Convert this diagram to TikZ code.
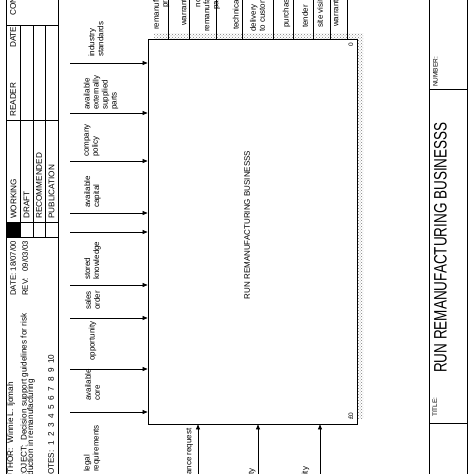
\documentclass[tikz,border=0pt]{standalone}
\usepackage{fontspec}
\setmainfont{Liberation Sans}
\usetikzlibrary{arrows.meta,patterns}
\begin{document}
\begin{tikzpicture}[x=1pt,y=-1pt,
  frameline/.style={draw=black, line width=0.6pt},
  cellline/.style={draw=black, line width=0.4pt},
  hdr/.style={rotate=90, inner sep=0pt, font=\fontsize{8.2}{9}\selectfont},
  lbl/.style={rotate=90, inner sep=0pt, align=left, font=\fontsize{8}{9}\selectfont},
  arr/.style={draw=black, line width=0.6pt, -{Triangle[length=5pt,width=4pt]}},
  outl/.style={draw=black, line width=0.6pt},
  actbox/.style={draw=black, line width=0.8pt, fill=white, inner sep=0pt, minimum width=209pt, minimum height=385pt},
]
\useasboundingbox (0,0) rectangle (474,474);
\clip (0,0) rectangle (474,474);
\fill[white] (0,0) rectangle (474,474);

% ---------- header form ----------
\draw[frameline] (6,0) -- (6,474);
\draw[frameline] (58,0) -- (58,474);
\draw[cellline] (6,25) -- (58,25);
\draw[cellline] (6,120) -- (58,120);
\draw[cellline] (6,237) -- (58,237);
\draw[cellline] (6,222) -- (58,222);
\foreach \x in {20,33,45} \draw[cellline] (\x,25) -- (\x,237);
\fill[black] (6,222) rectangle (20,237);

\node[hdr, anchor=west] (hctx) at (13,16) {CONTEXT:};
\node[hdr, anchor=west] (hdate) at (13,48) {DATE};
\node[hdr, anchor=west] (hreader) at (13,117) {READER};
\node[hdr, anchor=west] (hwork) at (13.5,219) {WORKING};
\node[hdr, anchor=west] (hdraft) at (26.5,219) {DRAFT};
\node[hdr, anchor=west] (hrec) at (39,219) {RECOMMENDED};
\node[hdr, anchor=west] (hpub) at (51.5,219) {PUBLICATION};
\node[hdr, anchor=west, font=\fontsize{7.8}{9}\selectfont] (hdt) at (13,296) {DATE: 18/07/00};
\node[hdr, anchor=west, font=\fontsize{7.8}{9}\selectfont] (hrev) at (25,296) {REV:\ \ \ 09/03/03};
\node[hdr, anchor=west] (hauth) at (11,485) {AUTHOR:\ \ Winnie L. Ijomah};
\node[hdr, anchor=west] (hproj) at (24.5,485) {PROJECT:\ \ Decision support guidelines for risk};
\node[hdr, anchor=west] (hproj2) at (31,483) {reduction in remanufacturing};
\node[hdr, anchor=west] (hnotes) at (51,481) {NOTES:\ \ 1\ \ 2\ \ 3\ \ 4\ \ 5\ \ 6\ \ 7\ \ 8\ \ 9\ \ 10};

% ---------- title block ----------
\draw[frameline] (429,0) -- (429,474);
\draw[frameline] (467,0) -- (467,474);
\draw[cellline] (429,89) -- (467,89);
\draw[cellline] (429,423) -- (467,423);
\node[hdr, anchor=west, font=\fontsize{6.5}{7}\selectfont] (tnum) at (435.5,87) {NUMBER:};
\node[hdr, anchor=west, font=\fontsize{6.5}{7}\selectfont] (ttitle) at (435,417) {TITLE:};
\node[hdr, anchor=west, font=\fontsize{18}{20}\selectfont] (tbig) at (440.5,373) {\scalebox{0.75}[1]{RUN REMANUFACTURING BUSINESSS}};

% ---------- activity box ----------
\fill[pattern=crosshatch dots, pattern color=gray] (154,33) rectangle (363,418);
\node[actbox] (box) at (252.5,231.5) {};
\node[rotate=90, inner sep=0pt, font=\fontsize{8}{9}\selectfont] (boxtxt) at (247,225) {RUN REMANUFACTURING BUSINESSS};
\node[rotate=90, inner sep=0pt, font=\fontsize{6.5}{7}\selectfont] (boxnum) at (351,45) {0};
\node[rotate=90, inner sep=0pt, font=\fontsize{6.5}{7}\selectfont] (boxcost) at (351,416) {\pounds0};

% ---------- controls (from left) ----------
\foreach \yy [count=\i] in {63,113,161,213,232,285,318,369,412} {
  \coordinate (c\i) at (70,\yy);
  \draw[arr] (c\i) -- (c\i -| box.west);
}
\node[lbl, anchor=west] (l1) at (96,57) {industry\\standards};
\node[lbl, anchor=west] (l2) at (101,110) {available\\externally\\supplied\\parts};
\node[lbl, anchor=west] (l3) at (92,157) {company\\policy};
\node[lbl, anchor=west] (l4) at (92.5,208) {available\\capital};
\node[lbl, anchor=west] (l5) at (92.5,280) {stored\\knowledge};
\node[lbl, anchor=west] (l6) at (92.5,310) {sales\\order};
\node[lbl, anchor=west] (l7) at (92.5,361) {opportunity};
\node[lbl, anchor=west] (l8) at (92.5,401) {available\\core};
\node[lbl, anchor=west] (l9) at (92,472) {legal\\requirements};

% ---------- inputs (from bottom) ----------
\foreach \xx [count=\i] in {198,258,320} {
  \coordinate (i\i) at (\xx,474);
  \draw[arr] (i\i) -- (i\i |- box.south);
}
\node[lbl, anchor=west] (il1) at (189.5,475) {ance request};
\node[lbl, anchor=west] (il2) at (252,475) {ty};
\node[lbl, anchor=west] (il3) at (305.5,475) {ity};

% ---------- outputs (to top) ----------
\foreach \xx [count=\i] in {168,189,216,242,273,293,313,330,347} {
  \coordinate (o\i) at (\xx,0);
  \draw[outl] (o\i |- box.north) -- (o\i);
}
\node[lbl, anchor=west] (ol1) at (156,30) {remanufactured};
\node[lbl, anchor=west] (ol1b) at (165.5,8) {products};
\node[lbl, anchor=west] (ol2) at (184.5,26) {warranty};
\node[lbl, anchor=west, align=center] (ol3) at (208,32) {non\\remanufacturable\\parts};
\node[lbl, anchor=west] (ol4) at (236.5,30) {technical support};
\node[lbl, anchor=west] (ol5) at (257.5,32) {delivery\\to customer};
\node[lbl, anchor=west] (ol6) at (286.5,28) {purchase order};
\node[lbl, anchor=west] (ol7) at (305,28) {tender};
\node[lbl, anchor=west] (ol8) at (320,28) {site visits};
\node[lbl, anchor=west] (ol9) at (336.5,27) {warranty};
\end{tikzpicture}
\end{document}
